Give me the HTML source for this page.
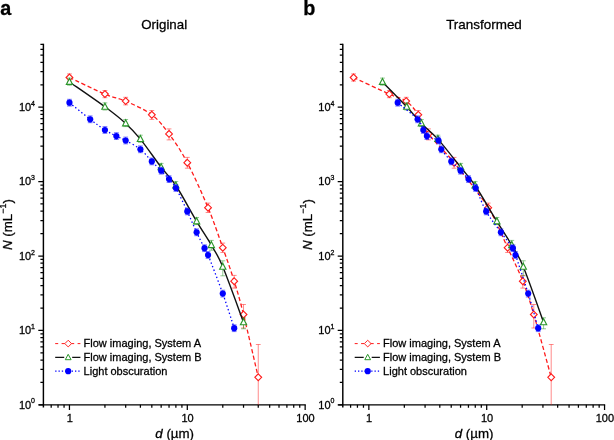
<!DOCTYPE html>
<html lang="en"><head><meta charset="utf-8"><title>Particle size distributions</title>
<style>html,body{margin:0;padding:0;background:#fff}body{width:614px;height:440px;overflow:hidden}svg{display:block}text{stroke:#000;stroke-width:.28px;paint-order:stroke}</style>
</head><body>
<svg width="614" height="440" viewBox="0 0 614 440" font-family='"Liberation Sans", Arial, Helvetica, sans-serif' fill="#000" stroke="none">
<rect width="614" height="440" fill="#fff"/>
<text x="0.3" y="14.6" font-size="19.8" font-weight="bold">a</text>
<text x="303.2" y="14.6" font-size="19.8" font-weight="bold">b</text>
<text x="164.2" y="28.8" font-size="13.3" text-anchor="middle">Original</text>
<text x="484" y="28.8" font-size="13.45" text-anchor="middle">Transformed</text>
<path d="M43.4 43.68V407.45M38.8 404.85H305.75" stroke="#000" stroke-width="1.45" fill="none"/>
<path d="M38.3 404.85H43.4M40.4 382.45H43.4M40.4 369.34H43.4M40.4 360.04H43.4M40.4 352.83H43.4M40.4 346.94H43.4M40.4 341.96H43.4M40.4 337.64H43.4M40.4 333.84H43.4M38.3 330.43H43.4M40.4 308.03H43.4M40.4 294.92H43.4M40.4 285.62H43.4M40.4 278.41H43.4M40.4 272.52H43.4M40.4 267.54H43.4M40.4 263.22H43.4M40.4 259.42H43.4M38.3 256.01H43.4M40.4 233.61H43.4M40.4 220.5H43.4M40.4 211.2H43.4M40.4 203.99H43.4M40.4 198.1H43.4M40.4 193.12H43.4M40.4 188.8H43.4M40.4 185H43.4M38.3 181.59H43.4M40.4 159.19H43.4M40.4 146.08H43.4M40.4 136.78H43.4M40.4 129.57H43.4M40.4 123.68H43.4M40.4 118.7H43.4M40.4 114.38H43.4M40.4 110.58H43.4M38.3 107.17H43.4M40.4 84.77H43.4M40.4 71.66H43.4M40.4 62.36H43.4M40.4 55.15H43.4M40.4 49.26H43.4M40.4 44.28H43.4M51.19 404.85V407.85M58.03 404.85V407.85M64.06 404.85V407.85M69.45 404.85V409.95M104.93 404.85V407.85M125.68 404.85V407.85M140.4 404.85V407.85M151.82 404.85V407.85M161.16 404.85V407.85M169.04 404.85V407.85M175.88 404.85V407.85M181.91 404.85V407.85M187.3 404.85V409.95M222.78 404.85V407.85M243.53 404.85V407.85M258.25 404.85V407.85M269.67 404.85V407.85M279.01 404.85V407.85M286.89 404.85V407.85M293.73 404.85V407.85M299.76 404.85V407.85M305.15 404.85V409.95" stroke="#000" stroke-width="1.25" fill="none"/>
<text x="31.2" y="408.75" font-size="11" text-anchor="end">10</text>
<text x="31.1" y="403.45" font-size="7">0</text>
<text x="31.2" y="334.33" font-size="11" text-anchor="end">10</text>
<text x="31.1" y="329.03" font-size="7">1</text>
<text x="31.2" y="259.91" font-size="11" text-anchor="end">10</text>
<text x="31.1" y="254.61" font-size="7">2</text>
<text x="31.2" y="185.49" font-size="11" text-anchor="end">10</text>
<text x="31.1" y="180.19" font-size="7">3</text>
<text x="31.2" y="111.07" font-size="11" text-anchor="end">10</text>
<text x="31.1" y="105.77" font-size="7">4</text>
<text x="69.75" y="422.3" font-size="11" text-anchor="middle">1</text>
<text x="187.6" y="422.3" font-size="11" text-anchor="middle">10</text>
<text x="305.45" y="422.3" font-size="11" text-anchor="middle">100</text>
<text x="174.67" y="438.2" font-size="13.3" text-anchor="middle"><tspan font-style="italic">d</tspan> (µm)</text>
<text transform="translate(12.4 224.6) rotate(-90)" font-size="13.3" text-anchor="middle"><tspan font-style="italic">N</tspan> (mL<tspan font-size="9" dy="-6.2">−1</tspan><tspan dy="6.2">)</tspan></text>
<path d="M342.8 43.68V407.45M338.2 404.85H605.15" stroke="#000" stroke-width="1.45" fill="none"/>
<path d="M337.7 404.85H342.8M339.8 382.45H342.8M339.8 369.34H342.8M339.8 360.04H342.8M339.8 352.83H342.8M339.8 346.94H342.8M339.8 341.96H342.8M339.8 337.64H342.8M339.8 333.84H342.8M337.7 330.43H342.8M339.8 308.03H342.8M339.8 294.92H342.8M339.8 285.62H342.8M339.8 278.41H342.8M339.8 272.52H342.8M339.8 267.54H342.8M339.8 263.22H342.8M339.8 259.42H342.8M337.7 256.01H342.8M339.8 233.61H342.8M339.8 220.5H342.8M339.8 211.2H342.8M339.8 203.99H342.8M339.8 198.1H342.8M339.8 193.12H342.8M339.8 188.8H342.8M339.8 185H342.8M337.7 181.59H342.8M339.8 159.19H342.8M339.8 146.08H342.8M339.8 136.78H342.8M339.8 129.57H342.8M339.8 123.68H342.8M339.8 118.7H342.8M339.8 114.38H342.8M339.8 110.58H342.8M337.7 107.17H342.8M339.8 84.77H342.8M339.8 71.66H342.8M339.8 62.36H342.8M339.8 55.15H342.8M339.8 49.26H342.8M339.8 44.28H342.8M350.59 404.85V407.85M357.43 404.85V407.85M363.46 404.85V407.85M368.85 404.85V409.95M404.33 404.85V407.85M425.08 404.85V407.85M439.8 404.85V407.85M451.22 404.85V407.85M460.56 404.85V407.85M468.44 404.85V407.85M475.28 404.85V407.85M481.31 404.85V407.85M486.7 404.85V409.95M522.18 404.85V407.85M542.93 404.85V407.85M557.65 404.85V407.85M569.07 404.85V407.85M578.41 404.85V407.85M586.29 404.85V407.85M593.13 404.85V407.85M599.16 404.85V407.85M604.55 404.85V409.95" stroke="#000" stroke-width="1.25" fill="none"/>
<text x="330.6" y="408.75" font-size="11" text-anchor="end">10</text>
<text x="330.5" y="403.45" font-size="7">0</text>
<text x="330.6" y="334.33" font-size="11" text-anchor="end">10</text>
<text x="330.5" y="329.03" font-size="7">1</text>
<text x="330.6" y="259.91" font-size="11" text-anchor="end">10</text>
<text x="330.5" y="254.61" font-size="7">2</text>
<text x="330.6" y="185.49" font-size="11" text-anchor="end">10</text>
<text x="330.5" y="180.19" font-size="7">3</text>
<text x="330.6" y="111.07" font-size="11" text-anchor="end">10</text>
<text x="330.5" y="105.77" font-size="7">4</text>
<text x="369.15" y="422.3" font-size="11" text-anchor="middle">1</text>
<text x="487" y="422.3" font-size="11" text-anchor="middle">10</text>
<text x="604.85" y="422.3" font-size="11" text-anchor="middle">100</text>
<text x="474.07" y="438.2" font-size="13.3" text-anchor="middle"><tspan font-style="italic">d</tspan> (µm)</text>
<text transform="translate(311.8 224.6) rotate(-90)" font-size="13.3" text-anchor="middle"><tspan font-style="italic">N</tspan> (mL<tspan font-size="9" dy="-6.2">−1</tspan><tspan dy="6.2">)</tspan></text>
<path d="M69.45 73.9V81.1M67.05 73.9h4.8M67.05 81.1h4.8M104.93 90.5V97.7M102.53 90.5h4.8M102.53 97.7h4.8M125.68 97.3V104.9M123.28 97.3h4.8M123.28 104.9h4.8M151.82 110.5V119.4M149.42 110.5h4.8M149.42 119.4h4.8M169.04 128.9V139.9M166.64 128.9h4.8M166.64 139.9h4.8M187.3 157.4V168.2M184.9 157.4h4.8M184.9 168.2h4.8M208.05 203.1V212.5M205.65 203.1h4.8M205.65 212.5h4.8M222.78 243.1V252.5M220.38 243.1h4.8M220.38 252.5h4.8M234.2 275.4V288.1M231.8 275.4h4.8M231.8 288.1h4.8M243.53 304.5V328M241.13 304.5h4.8M241.13 328h4.8M258.25 344.5V404.85M255.85 344.5h4.8" stroke="#ff1a1a" stroke-width="0.6" fill="none" opacity="0.85"/>
<path d="M69.45 77.5C75.36 80.27 95.55 90.17 104.93 94.1C114.3 98.03 117.86 97.65 125.68 101.1C133.49 104.55 144.6 109.33 151.82 114.8C159.05 120.27 163.13 125.92 169.04 133.9C174.96 141.88 180.8 150.4 187.3 162.7C193.8 175 202.14 193.53 208.05 207.7C213.97 221.87 218.42 235.45 222.78 247.7C227.13 259.95 230.74 270.07 234.2 281.2C237.66 292.33 239.52 298.48 243.53 314.5C247.54 330.52 255.8 366.83 258.25 377.3" stroke="#ff1a1a" stroke-width="1.3" fill="none" stroke-dasharray="4.2 2.5"/>
<path d="M69.45 74.1L72.85 77.5L69.45 80.9L66.05 77.5Z" fill="#fff" stroke="#ff1a1a" stroke-width="1.1"/>
<path d="M104.93 90.7L108.33 94.1L104.93 97.5L101.53 94.1Z" fill="#fff" stroke="#ff1a1a" stroke-width="1.1"/>
<path d="M125.68 97.7L129.08 101.1L125.68 104.5L122.28 101.1Z" fill="#fff" stroke="#ff1a1a" stroke-width="1.1"/>
<path d="M151.82 111.4L155.22 114.8L151.82 118.2L148.42 114.8Z" fill="#fff" stroke="#ff1a1a" stroke-width="1.1"/>
<path d="M169.04 130.5L172.44 133.9L169.04 137.3L165.64 133.9Z" fill="#fff" stroke="#ff1a1a" stroke-width="1.1"/>
<path d="M187.3 159.3L190.7 162.7L187.3 166.1L183.9 162.7Z" fill="#fff" stroke="#ff1a1a" stroke-width="1.1"/>
<path d="M208.05 204.3L211.45 207.7L208.05 211.1L204.65 207.7Z" fill="#fff" stroke="#ff1a1a" stroke-width="1.1"/>
<path d="M222.78 244.3L226.18 247.7L222.78 251.1L219.38 247.7Z" fill="#fff" stroke="#ff1a1a" stroke-width="1.1"/>
<path d="M234.2 277.8L237.6 281.2L234.2 284.6L230.8 281.2Z" fill="#fff" stroke="#ff1a1a" stroke-width="1.1"/>
<path d="M243.53 311.1L246.93 314.5L243.53 317.9L240.13 314.5Z" fill="#fff" stroke="#ff1a1a" stroke-width="1.1"/>
<path d="M258.25 373.9L261.65 377.3L258.25 380.7L254.85 377.3Z" fill="#fff" stroke="#ff1a1a" stroke-width="1.1"/>
<path d="M69.45 78.1V85.2M67.05 78.1h4.8M67.05 85.2h4.8M104.93 102.9V110M102.53 102.9h4.8M102.53 110h4.8M125.68 119.5V126.6M123.28 119.5h4.8M123.28 126.6h4.8M140.4 135.2V142.3M138 135.2h4.8M138 142.3h4.8M161.16 163.4V170.5M158.76 163.4h4.8M158.76 170.5h4.8M175.88 181.6V188.7M173.48 181.6h4.8M173.48 188.7h4.8M196.63 217.5V224.6M194.23 217.5h4.8M194.23 224.6h4.8M211.36 240.4V250.2M208.96 240.4h4.8M208.96 250.2h4.8M222.78 260.8V275.8M220.38 260.8h4.8M220.38 275.8h4.8M243.53 317.8V328.8M241.13 317.8h4.8M241.13 328.8h4.8" stroke="#2a962a" stroke-width="0.6" fill="none" opacity="0.85"/>
<path d="M69.45 82C75.36 86.13 95.55 99.9 104.93 106.8C114.3 113.7 119.77 118.02 125.68 123.4C131.59 128.78 134.49 131.78 140.4 139.1C146.32 146.42 155.24 159.57 161.16 167.3C167.07 175.03 169.97 176.48 175.88 185.5C181.79 194.52 190.72 211.45 196.63 221.4C202.54 231.35 207 237.63 211.36 245.2C215.71 252.77 217.41 253.95 222.78 266.8C228.14 279.65 240.07 313.05 243.53 322.3" stroke="#111" stroke-width="1.4" fill="none"/>
<path d="M69.45 78.4L72.55 84.4H66.35Z" fill="#fff" stroke="#2a962a" stroke-width="1.15"/>
<path d="M104.93 103.2L108.03 109.2H101.83Z" fill="#fff" stroke="#2a962a" stroke-width="1.15"/>
<path d="M125.68 119.8L128.78 125.8H122.58Z" fill="#fff" stroke="#2a962a" stroke-width="1.15"/>
<path d="M140.4 135.5L143.5 141.5H137.3Z" fill="#fff" stroke="#2a962a" stroke-width="1.15"/>
<path d="M161.16 163.7L164.26 169.7H158.06Z" fill="#fff" stroke="#2a962a" stroke-width="1.15"/>
<path d="M175.88 181.9L178.98 187.9H172.78Z" fill="#fff" stroke="#2a962a" stroke-width="1.15"/>
<path d="M196.63 217.8L199.73 223.8H193.53Z" fill="#fff" stroke="#2a962a" stroke-width="1.15"/>
<path d="M211.36 241.6L214.46 247.6H208.26Z" fill="#fff" stroke="#2a962a" stroke-width="1.15"/>
<path d="M222.78 263.2L225.88 269.2H219.68Z" fill="#fff" stroke="#2a962a" stroke-width="1.15"/>
<path d="M243.53 318.7L246.63 324.7H240.43Z" fill="#fff" stroke="#2a962a" stroke-width="1.15"/>
<path d="M69.45 99.3V106.1M67.05 99.3h4.8M67.05 106.1h4.8M90.2 115.9V122.7M87.8 115.9h4.8M87.8 122.7h4.8M104.93 126.6V133.4M102.53 126.6h4.8M102.53 133.4h4.8M116.35 132.7V139.5M113.95 132.7h4.8M113.95 139.5h4.8M125.68 137.1V143.9M123.28 137.1h4.8M123.28 143.9h4.8M140.4 145.9V152.7M138 145.9h4.8M138 152.7h4.8M151.82 158V164.8M149.42 158h4.8M149.42 164.8h4.8M161.16 167.3V174.1M158.76 167.3h4.8M158.76 174.1h4.8M169.04 175.7V182.5M166.64 175.7h4.8M166.64 182.5h4.8M175.88 184.6V191.4M173.48 184.6h4.8M173.48 191.4h4.8M187.3 208V214.8M184.9 208h4.8M184.9 214.8h4.8M196.63 228.9V235.7M194.23 228.9h4.8M194.23 235.7h4.8M204.52 244.8V251.6M202.12 244.8h4.8M202.12 251.6h4.8M208.05 251.6V258.4M205.65 251.6h4.8M205.65 258.4h4.8M222.78 290.2V297M220.38 290.2h4.8M220.38 297h4.8M234.2 324.8V331.6M231.8 324.8h4.8M231.8 331.6h4.8" stroke="#0000ff" stroke-width="0.6" fill="none" opacity="0.85"/>
<path d="M69.45 102.7C72.91 105.47 84.29 114.75 90.2 119.3C96.12 123.85 100.57 127.2 104.93 130C109.28 132.8 112.89 134.35 116.35 136.1C119.81 137.85 121.67 138.3 125.68 140.5C129.69 142.7 136.05 145.82 140.4 149.3C144.76 152.78 148.36 157.83 151.82 161.4C155.28 164.97 158.28 167.75 161.16 170.7C164.03 173.65 166.59 176.22 169.04 179.1C171.5 181.98 172.84 182.62 175.88 188C178.92 193.38 183.84 204.02 187.3 211.4C190.76 218.78 193.76 226.17 196.63 232.3C199.5 238.43 202.62 244.42 204.52 248.2C206.42 251.98 205.01 247.43 208.05 255C211.09 262.57 218.42 281.4 222.78 293.6C227.13 305.8 232.29 322.43 234.2 328.2" stroke="#0000ff" stroke-width="1.3" fill="none" stroke-dasharray="1.4 2.4"/>
<circle cx="69.45" cy="102.7" r="3.1" fill="#0000ff"/>
<circle cx="90.2" cy="119.3" r="3.1" fill="#0000ff"/>
<circle cx="104.93" cy="130" r="3.1" fill="#0000ff"/>
<circle cx="116.35" cy="136.1" r="3.1" fill="#0000ff"/>
<circle cx="125.68" cy="140.5" r="3.1" fill="#0000ff"/>
<circle cx="140.4" cy="149.3" r="3.1" fill="#0000ff"/>
<circle cx="151.82" cy="161.4" r="3.1" fill="#0000ff"/>
<circle cx="161.16" cy="170.7" r="3.1" fill="#0000ff"/>
<circle cx="169.04" cy="179.1" r="3.1" fill="#0000ff"/>
<circle cx="175.88" cy="188" r="3.1" fill="#0000ff"/>
<circle cx="187.3" cy="211.4" r="3.1" fill="#0000ff"/>
<circle cx="196.63" cy="232.3" r="3.1" fill="#0000ff"/>
<circle cx="204.52" cy="248.2" r="3.1" fill="#0000ff"/>
<circle cx="208.05" cy="255" r="3.1" fill="#0000ff"/>
<circle cx="222.78" cy="293.6" r="3.1" fill="#0000ff"/>
<circle cx="234.2" cy="328.2" r="3.1" fill="#0000ff"/>
<path d="M353.6 73.9V81.1M351.2 73.9h4.8M351.2 81.1h4.8M389.3 90.5V97.7M386.9 90.5h4.8M386.9 97.7h4.8M406.2 97.3V104.9M403.8 97.3h4.8M403.8 104.9h4.8M418.3 110.5V119.4M415.9 110.5h4.8M415.9 119.4h4.8M428.5 128.9V139.9M426.1 128.9h4.8M426.1 139.9h4.8M454.1 157.4V168.2M451.7 157.4h4.8M451.7 168.2h4.8M488.2 203.1V212.5M485.8 203.1h4.8M485.8 212.5h4.8M507.6 243.1V252.5M505.2 243.1h4.8M505.2 252.5h4.8M522.8 275.4V288.1M520.4 275.4h4.8M520.4 288.1h4.8M533.8 304.5V328M531.4 304.5h4.8M531.4 328h4.8M551.2 344.5V404.85M548.8 344.5h4.8" stroke="#ff1a1a" stroke-width="0.6" fill="none" opacity="0.85"/>
<path d="M353.6 77.5C359.55 80.27 380.53 90.17 389.3 94.1C398.07 98.03 401.37 97.65 406.2 101.1C411.03 104.55 414.58 109.33 418.3 114.8C422.02 120.27 422.53 125.92 428.5 133.9C434.47 141.88 444.15 150.4 454.1 162.7C464.05 175 479.28 193.53 488.2 207.7C497.12 221.87 501.83 235.45 507.6 247.7C513.37 259.95 518.43 270.07 522.8 281.2C527.17 292.33 529.07 298.48 533.8 314.5C538.53 330.52 548.3 366.83 551.2 377.3" stroke="#ff1a1a" stroke-width="1.3" fill="none" stroke-dasharray="4.2 2.5"/>
<path d="M353.6 74.1L357 77.5L353.6 80.9L350.2 77.5Z" fill="#fff" stroke="#ff1a1a" stroke-width="1.1"/>
<path d="M389.3 90.7L392.7 94.1L389.3 97.5L385.9 94.1Z" fill="#fff" stroke="#ff1a1a" stroke-width="1.1"/>
<path d="M406.2 97.7L409.6 101.1L406.2 104.5L402.8 101.1Z" fill="#fff" stroke="#ff1a1a" stroke-width="1.1"/>
<path d="M418.3 111.4L421.7 114.8L418.3 118.2L414.9 114.8Z" fill="#fff" stroke="#ff1a1a" stroke-width="1.1"/>
<path d="M428.5 130.5L431.9 133.9L428.5 137.3L425.1 133.9Z" fill="#fff" stroke="#ff1a1a" stroke-width="1.1"/>
<path d="M454.1 159.3L457.5 162.7L454.1 166.1L450.7 162.7Z" fill="#fff" stroke="#ff1a1a" stroke-width="1.1"/>
<path d="M488.2 204.3L491.6 207.7L488.2 211.1L484.8 207.7Z" fill="#fff" stroke="#ff1a1a" stroke-width="1.1"/>
<path d="M507.6 244.3L511 247.7L507.6 251.1L504.2 247.7Z" fill="#fff" stroke="#ff1a1a" stroke-width="1.1"/>
<path d="M522.8 277.8L526.2 281.2L522.8 284.6L519.4 281.2Z" fill="#fff" stroke="#ff1a1a" stroke-width="1.1"/>
<path d="M533.8 311.1L537.2 314.5L533.8 317.9L530.4 314.5Z" fill="#fff" stroke="#ff1a1a" stroke-width="1.1"/>
<path d="M551.2 373.9L554.6 377.3L551.2 380.7L547.8 377.3Z" fill="#fff" stroke="#ff1a1a" stroke-width="1.1"/>
<path d="M382.5 78.1V85.2M380.1 78.1h4.8M380.1 85.2h4.8M406.7 102.9V110M404.3 102.9h4.8M404.3 110h4.8M421.4 119.5V126.6M419 119.5h4.8M419 126.6h4.8M437.9 135.2V142.3M435.5 135.2h4.8M435.5 142.3h4.8M460.7 163.4V170.5M458.3 163.4h4.8M458.3 170.5h4.8M475.1 181.6V188.7M472.7 181.6h4.8M472.7 188.7h4.8M496.9 217.5V224.6M494.5 217.5h4.8M494.5 224.6h4.8M511.8 240.4V250.2M509.4 240.4h4.8M509.4 250.2h4.8M523.3 260.8V275.8M520.9 260.8h4.8M520.9 275.8h4.8M543.6 317.8V328.8M541.2 317.8h4.8M541.2 328.8h4.8" stroke="#2a962a" stroke-width="0.6" fill="none" opacity="0.85"/>
<path d="M382.5 82C386.53 86.13 400.22 99.9 406.7 106.8C413.18 113.7 416.2 118.02 421.4 123.4C426.6 128.78 431.35 131.78 437.9 139.1C444.45 146.42 454.5 159.57 460.7 167.3C466.9 175.03 469.07 176.48 475.1 185.5C481.13 194.52 490.78 211.45 496.9 221.4C503.02 231.35 507.4 237.63 511.8 245.2C516.2 252.77 518 253.95 523.3 266.8C528.6 279.65 540.22 313.05 543.6 322.3" stroke="#111" stroke-width="1.4" fill="none"/>
<path d="M382.5 78.4L385.6 84.4H379.4Z" fill="#fff" stroke="#2a962a" stroke-width="1.15"/>
<path d="M406.7 103.2L409.8 109.2H403.6Z" fill="#fff" stroke="#2a962a" stroke-width="1.15"/>
<path d="M421.4 119.8L424.5 125.8H418.3Z" fill="#fff" stroke="#2a962a" stroke-width="1.15"/>
<path d="M437.9 135.5L441 141.5H434.8Z" fill="#fff" stroke="#2a962a" stroke-width="1.15"/>
<path d="M460.7 163.7L463.8 169.7H457.6Z" fill="#fff" stroke="#2a962a" stroke-width="1.15"/>
<path d="M475.1 181.9L478.2 187.9H472Z" fill="#fff" stroke="#2a962a" stroke-width="1.15"/>
<path d="M496.9 217.8L500 223.8H493.8Z" fill="#fff" stroke="#2a962a" stroke-width="1.15"/>
<path d="M511.8 241.6L514.9 247.6H508.7Z" fill="#fff" stroke="#2a962a" stroke-width="1.15"/>
<path d="M523.3 263.2L526.4 269.2H520.2Z" fill="#fff" stroke="#2a962a" stroke-width="1.15"/>
<path d="M543.6 318.7L546.7 324.7H540.5Z" fill="#fff" stroke="#2a962a" stroke-width="1.15"/>
<path d="M397.7 99.3V106.1M395.3 99.3h4.8M395.3 106.1h4.8M417.6 115.9V122.7M415.2 115.9h4.8M415.2 122.7h4.8M423.3 126.6V133.4M420.9 126.6h4.8M420.9 133.4h4.8M426.9 132.7V139.5M424.5 132.7h4.8M424.5 139.5h4.8M438.5 137.1V143.9M436.1 137.1h4.8M436.1 143.9h4.8M441.3 145.9V152.7M438.9 145.9h4.8M438.9 152.7h4.8M451.3 158V164.8M448.9 158h4.8M448.9 164.8h4.8M460.6 167.3V174.1M458.2 167.3h4.8M458.2 174.1h4.8M468.5 175.7V182.5M466.1 175.7h4.8M466.1 182.5h4.8M475.6 184.6V191.4M473.2 184.6h4.8M473.2 191.4h4.8M486.2 208V214.8M483.8 208h4.8M483.8 214.8h4.8M500.9 228.9V235.7M498.5 228.9h4.8M498.5 235.7h4.8M512.9 244.8V251.6M510.5 244.8h4.8M510.5 251.6h4.8M515.5 251.6V258.4M513.1 251.6h4.8M513.1 258.4h4.8M528.2 290.2V297M525.8 290.2h4.8M525.8 297h4.8M538.2 324.8V331.6M535.8 324.8h4.8M535.8 331.6h4.8" stroke="#0000ff" stroke-width="0.6" fill="none" opacity="0.85"/>
<path d="M397.7 102.7C401.02 105.47 413.33 114.75 417.6 119.3C421.87 123.85 421.75 127.2 423.3 130C424.85 132.8 424.37 134.35 426.9 136.1C429.43 137.85 436.1 138.3 438.5 140.5C440.9 142.7 439.17 145.82 441.3 149.3C443.43 152.78 448.08 157.83 451.3 161.4C454.52 164.97 457.73 167.75 460.6 170.7C463.47 173.65 466 176.22 468.5 179.1C471 181.98 472.65 182.62 475.6 188C478.55 193.38 481.98 204.02 486.2 211.4C490.42 218.78 496.45 226.17 500.9 232.3C505.35 238.43 510.47 244.42 512.9 248.2C515.33 251.98 512.95 247.43 515.5 255C518.05 262.57 524.42 281.4 528.2 293.6C531.98 305.8 536.53 322.43 538.2 328.2" stroke="#0000ff" stroke-width="1.3" fill="none" stroke-dasharray="1.4 2.4"/>
<circle cx="397.7" cy="102.7" r="3.1" fill="#0000ff"/>
<circle cx="417.6" cy="119.3" r="3.1" fill="#0000ff"/>
<circle cx="423.3" cy="130" r="3.1" fill="#0000ff"/>
<circle cx="426.9" cy="136.1" r="3.1" fill="#0000ff"/>
<circle cx="438.5" cy="140.5" r="3.1" fill="#0000ff"/>
<circle cx="441.3" cy="149.3" r="3.1" fill="#0000ff"/>
<circle cx="451.3" cy="161.4" r="3.1" fill="#0000ff"/>
<circle cx="460.6" cy="170.7" r="3.1" fill="#0000ff"/>
<circle cx="468.5" cy="179.1" r="3.1" fill="#0000ff"/>
<circle cx="475.6" cy="188" r="3.1" fill="#0000ff"/>
<circle cx="486.2" cy="211.4" r="3.1" fill="#0000ff"/>
<circle cx="500.9" cy="232.3" r="3.1" fill="#0000ff"/>
<circle cx="512.9" cy="248.2" r="3.1" fill="#0000ff"/>
<circle cx="515.5" cy="255" r="3.1" fill="#0000ff"/>
<circle cx="528.2" cy="293.6" r="3.1" fill="#0000ff"/>
<circle cx="538.2" cy="328.2" r="3.1" fill="#0000ff"/>
<path d="M55.2 343.6H80.4" stroke="#ff1a1a" stroke-width="1" stroke-dasharray="3 3.4 3.2 6.4 3 3.4 3" />
<path d="M68.2 340.25L71.55 343.6L68.2 346.95L64.85 343.6Z" fill="#fff" stroke="#ff1a1a" stroke-width="0.95"/>
<path d="M55.2 357.4H64.2M72.2 357.4H80.4" stroke="#111" stroke-width="1.1"/>
<path d="M68.2 354.3L71.1 359.7H65.3Z" fill="#fff" stroke="#2a962a" stroke-width="1"/>
<path d="M55.2 371.2H80.4" stroke="#0000ff" stroke-width="1.2" stroke-dasharray="1.3 2"/>
<circle cx="68.2" cy="371.2" r="3.1" fill="#0000ff"/>
<text x="83.6" y="347.2" font-size="11">Flow imaging, System A</text>
<text x="83.6" y="361" font-size="11">Flow imaging, System B</text>
<text x="83.6" y="374.8" font-size="11">Light obscuration</text>
<path d="M354.7 343.6H379.9" stroke="#ff1a1a" stroke-width="1" stroke-dasharray="3 3.4 3.2 6.4 3 3.4 3" />
<path d="M367.7 340.25L371.05 343.6L367.7 346.95L364.35 343.6Z" fill="#fff" stroke="#ff1a1a" stroke-width="0.95"/>
<path d="M354.7 357.4H363.7M371.7 357.4H379.9" stroke="#111" stroke-width="1.1"/>
<path d="M367.7 354.3L370.6 359.7H364.8Z" fill="#fff" stroke="#2a962a" stroke-width="1"/>
<path d="M354.7 371.2H379.9" stroke="#0000ff" stroke-width="1.2" stroke-dasharray="1.3 2"/>
<circle cx="367.7" cy="371.2" r="3.1" fill="#0000ff"/>
<text x="383.1" y="347.2" font-size="11">Flow imaging, System A</text>
<text x="383.1" y="361" font-size="11">Flow imaging, System B</text>
<text x="383.1" y="374.8" font-size="11">Light obscuration</text>
</svg>
</body></html>
